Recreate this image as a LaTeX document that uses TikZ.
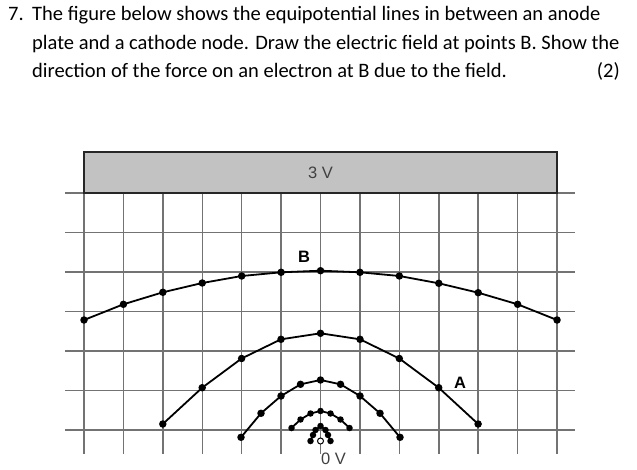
\documentclass[tikz,border=0pt]{standalone}
\usepackage{fontspec}
\setmainfont{Carlito}
\setsansfont{Liberation Sans}
\begin{document}
\begin{tikzpicture}[x=1pt,y=-1pt,
  gridline/.style={draw=black!55,line width=1.5pt},
  eqline/.style={draw=black,line width=1.8pt},
  bigdot/.style={circle,fill=black,inner sep=0pt,minimum size=7.5pt},
  smalldot/.style={circle,fill=black,inner sep=0pt,minimum size=6.5pt},
  titletext/.style={font=\fontsize{20.5}{24}\selectfont,anchor=base west,inner sep=0pt},
  platebox/.style={draw=black!85,line width=2pt,fill=black!24,minimum width=473pt,minimum height=41pt,inner sep=0pt,
    font=\sffamily\fontsize{16.5}{18}\selectfont,text=black!75},
  ptlabel/.style={font=\sffamily\bfseries\fontsize{16.5}{18}\selectfont,inner sep=0pt},
  vlabel/.style={font=\sffamily\fontsize{16.5}{18}\selectfont,text=black!75,inner sep=0pt}]
\useasboundingbox (0,0) rectangle (637,470);
% question text
\node[titletext] (num) at (8,21) {7.};
\node[titletext] (l1) at (32,21) {The figure below shows the equipotential lines in between an anode};
\node[titletext] (l2) at (32,49.5) {plate and a cathode node. Draw the electric field at points B. Show the};
\node[titletext] (l3) at (32,78) {direction of the force on an electron at B due to the field.};
\node[titletext,anchor=base east] (marks) at (620,78) {(2)};
% grid
\foreach \r in {0,...,6} \draw[gridline] (65,193+39.5*\r) -- (575,193+39.5*\r);
\foreach \k in {0,...,12} \draw[gridline] (84+39.42*\k,193) -- (84+39.42*\k,454);
% anode plate
\node[platebox] (plate) at (320.5,172.5) {3 V};
% equipotential 1
\foreach \k/\y in {0/320,1/304.3,2/292.3,3/283,4/276,5/272.3,6/270.7,7/272.3,8/276,9/283.3,10/292.7,11/304.3,12/320}
  \coordinate (a\k) at ({84+39.42*\k},\y);
\draw[eqline] (a0) \foreach \k in {1,...,12}{ -- (a\k)};
\foreach \k in {0,...,12} \node[bigdot] (da\k) at (a\k) {};
% equipotential 2
\foreach \x/\y [count=\i] in {162.8/424,202.2/387.7,241.6/358.5,281/339.3,320.5/333.3,360/339.3,399.3/358.5,438.7/387.7,478.1/424}
  \coordinate (b\i) at (\x,\y);
\draw[eqline] (b1) \foreach \i in {2,...,9}{ -- (b\i)};
\foreach \i in {1,...,9} \node[bigdot] (db\i) at (b\i) {};
% equipotential 3
\foreach \x/\y [count=\i] in {241/437.3,261/413.3,281/396,300.5/384.3,320.5/380,340.5/384.3,360/396,380/413.3,400/437.3}
  \coordinate (c\i) at (\x,\y);
\draw[eqline] (c1) \foreach \i in {2,...,9}{ -- (c\i)};
\foreach \i in {1,...,9} \node[bigdot] (dc\i) at (c\i) {};
% equipotential 4
\foreach \x/\y [count=\i] in {291.5/428,300.5/419.5,310.5/413.5,320.5/411,330.5/413.5,340.5/419.5,349.5/428}
  \coordinate (e\i) at (\x,\y);
\draw[eqline] (e1) \foreach \i in {2,...,7}{ -- (e\i)};
\foreach \i in {1,...,7} \node[smalldot] (de\i) at (e\i) {};
% equipotential 5
\foreach \x/\y [count=\i] in {310.5/441,313/435,315.5/430,320.5/426,325.5/430,328/435,330.5/441}
  \coordinate (f\i) at (\x,\y);
\draw[eqline] (f1) \foreach \i in {2,...,7}{ -- (f\i)};
\foreach \i in {1,...,7} \node[smalldot] (df\i) at (f\i) {};
% cathode
\node[circle,draw=black,fill=white,line width=1pt,minimum size=6pt,inner sep=0pt] (cathode) at (320.5,441) {};
% labels
\node[ptlabel] (B) at (304,257) {B};
\node[ptlabel] (A) at (460,383) {A};
\node[vlabel,anchor=west] (zero) at (321,459) {0 V};
\end{tikzpicture}
\end{document}
